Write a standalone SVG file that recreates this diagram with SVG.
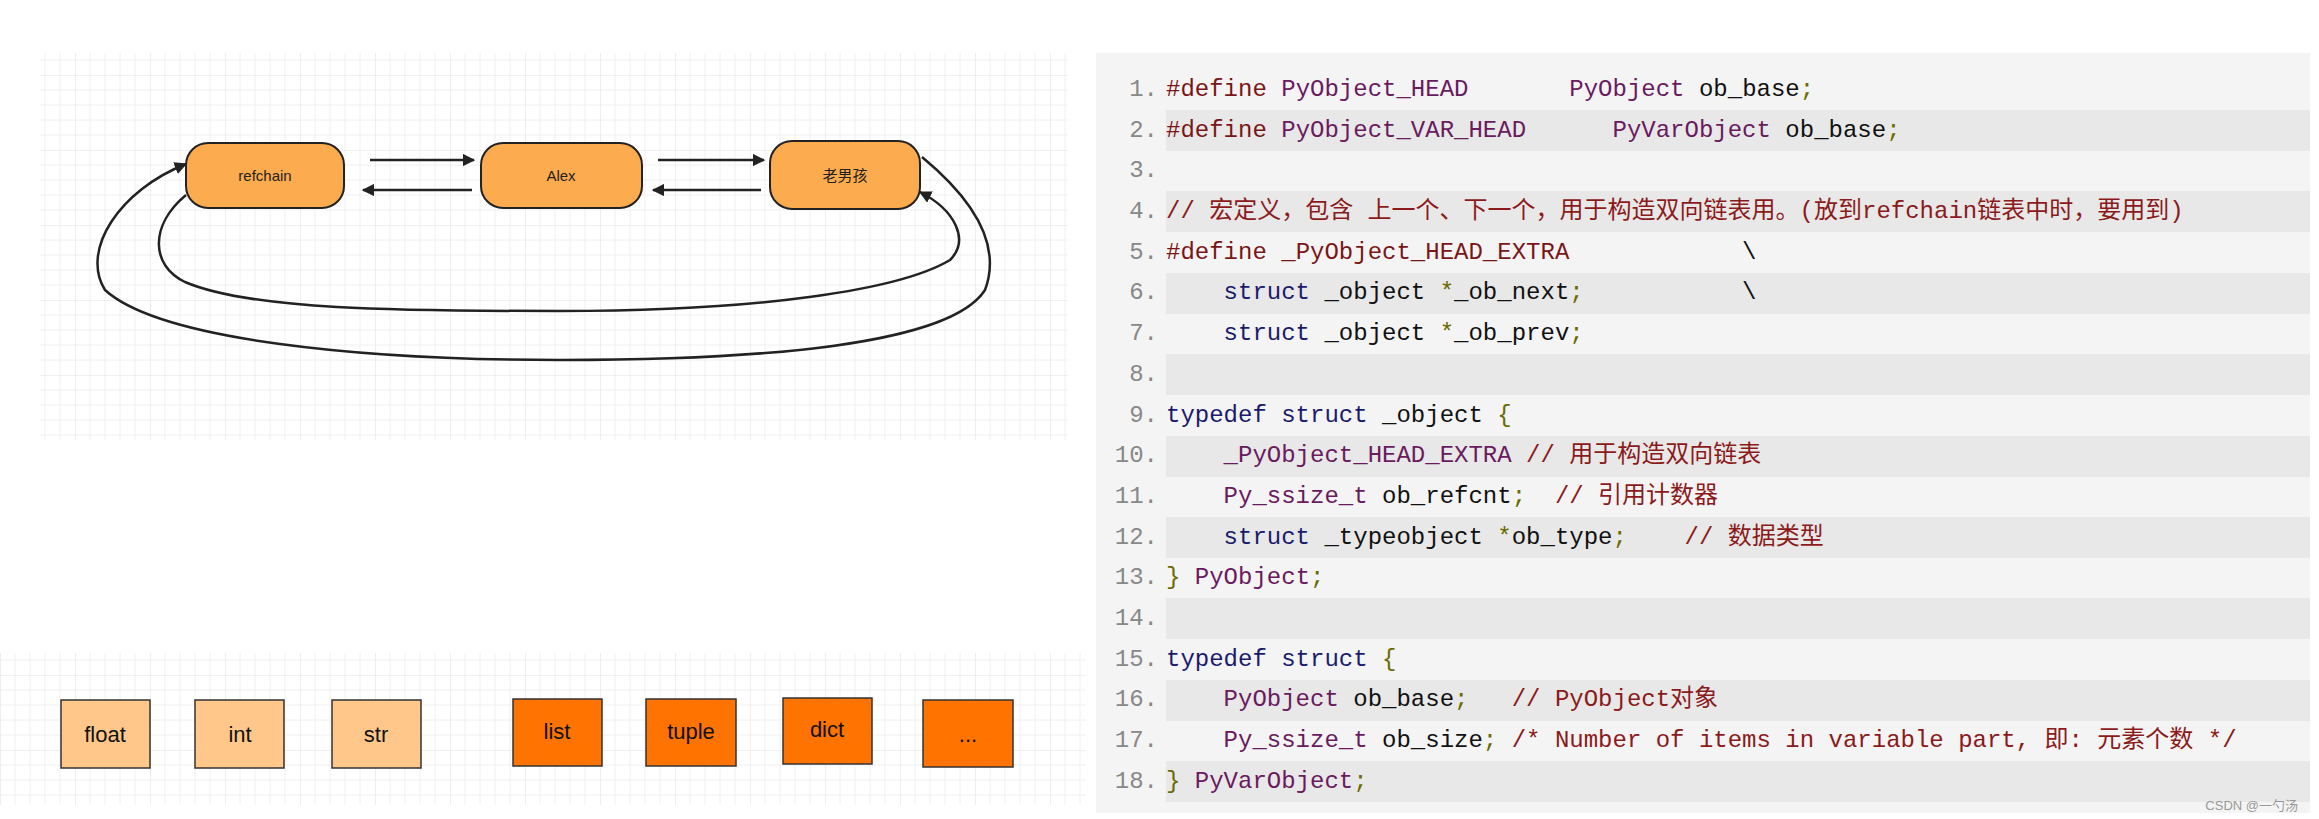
<svg xmlns="http://www.w3.org/2000/svg" width="2319" height="819" viewBox="0 0 2319 819">
<style>
.node{fill:#fdab4f;stroke:#222;stroke-width:2}
.lt{fill:#ffc88a;stroke:#333;stroke-width:1.5}
.dk{fill:#ff7300;stroke:#333;stroke-width:1.5}
.nl{font-family:"Liberation Sans","Noto Sans CJK SC",sans-serif;font-size:15px;fill:#222;text-anchor:middle}
.bl{font-family:"Liberation Sans",sans-serif;font-size:22px;fill:#111;text-anchor:middle}
.code{font-family:"Liberation Mono","Noto Sans CJK SC",monospace;font-size:24px;white-space:pre;fill:#111}
.ln{fill:#888}.kw{fill:#7a1616}.ty{fill:#6a1a5e}.st{fill:#1b1b6e}.pu{fill:#6b6b00}.cm{fill:#8b1a1a}
.conn path,.conn line{fill:none;stroke:#222;stroke-width:2.5}
</style>
<defs>
<pattern id="g" width="75" height="75" patternUnits="userSpaceOnUse">
<path d="M15 0V75M30 0V75M45 0V75M60 0V75M0 15H75M0 30H75M0 45H75M0 60H75" stroke="#f0f0f0" stroke-width="1"/>
<path d="M0 0V75M0 0H75" stroke="#e2e2e2" stroke-width="1.2"/>
</pattern>
<marker id="a" viewBox="0 0 10 10" refX="9" refY="5" markerWidth="5" markerHeight="5" orient="auto"><path d="M0 0L10 5L0 10z" fill="#222"/></marker>
</defs>
<rect width="2319" height="819" fill="#fff"/>
<rect x="40" y="53" width="1028" height="387" fill="url(#g)"/>
<rect x="0" y="653" width="1086" height="152" fill="url(#g)"/>
<g class="conn">
<line x1="370" y1="160" x2="474" y2="160" marker-end="url(#a)"/>
<line x1="472" y1="190" x2="363" y2="190" marker-end="url(#a)"/>
<line x1="658" y1="160" x2="764" y2="160" marker-end="url(#a)"/>
<line x1="761" y1="190" x2="653" y2="190" marker-end="url(#a)"/>
<path d="M922 157C980 205 1000 250 985 290C950 345 760 360 560 360C360 360 160 340 105 290C80 250 120 190 186 164" marker-end="url(#a)"/>
<path d="M186 195C150 225 150 265 185 282C250 310 400 311 560 311C760 311 900 290 950 260C970 240 955 210 920 192" marker-end="url(#a)"/>
</g>
<g id="refchain"><rect class="node" x="186" y="143" width="158" height="65" rx="22"/><text class="nl" x="265" y="181">refchain</text></g>
<g id="alex"><rect class="node" x="481" y="143" width="161" height="65" rx="22"/><text class="nl" x="561" y="181">Alex</text></g>
<g id="laonanhai"><rect class="node" x="770" y="141" width="150" height="68" rx="22"/><text class="nl" x="845" y="181">老男孩</text></g>
<g id="float"><rect class="lt" x="61" y="700" width="89" height="68"/><text class="bl" x="105" y="742">float</text></g>
<g id="int"><rect class="lt" x="195" y="700" width="89" height="68"/><text class="bl" x="240" y="742">int</text></g>
<g id="str"><rect class="lt" x="332" y="700" width="89" height="68"/><text class="bl" x="376" y="742">str</text></g>
<g id="list"><rect class="dk" x="513" y="699" width="89" height="67"/><text class="bl" x="557" y="739">list</text></g>
<g id="tuple"><rect class="dk" x="646" y="699" width="90" height="67"/><text class="bl" x="691" y="739">tuple</text></g>
<g id="dict"><rect class="dk" x="783" y="698" width="89" height="66"/><text class="bl" x="827" y="737">dict</text></g>
<g id="more"><rect class="dk" x="923" y="700" width="90" height="67"/><text class="bl" x="968" y="742">...</text></g>
<g id="code">
<rect x="1096" y="53" width="1214" height="760" fill="#f4f4f4"/>
<g fill="#e8e8e8">
<rect x="1166" y="110" width="1144" height="41"/><rect x="1166" y="191" width="1144" height="41"/><rect x="1166" y="273" width="1144" height="41"/><rect x="1166" y="354" width="1144" height="41"/><rect x="1166" y="436" width="1144" height="41"/><rect x="1166" y="517" width="1144" height="41"/><rect x="1166" y="598" width="1144" height="41"/><rect x="1166" y="680" width="1144" height="41"/><rect x="1166" y="761" width="1144" height="41"/>
</g>
<g class="code ln" text-anchor="end">
<text x="1158" y="96">1.</text><text x="1158" y="137">2.</text><text x="1158" y="177">3.</text><text x="1158" y="218">4.</text><text x="1158" y="259">5.</text><text x="1158" y="299">6.</text><text x="1158" y="340">7.</text><text x="1158" y="381">8.</text><text x="1158" y="422">9.</text><text x="1158" y="462">10.</text><text x="1158" y="503">11.</text><text x="1158" y="544">12.</text><text x="1158" y="584">13.</text><text x="1158" y="625">14.</text><text x="1158" y="666">15.</text><text x="1158" y="706">16.</text><text x="1158" y="747">17.</text><text x="1158" y="788">18.</text>
</g>
<text class="code" x="1166" y="96"><tspan class="kw">#define</tspan> <tspan class="ty">PyObject_HEAD</tspan>       <tspan class="ty">PyObject</tspan> ob_base<tspan class="pu">;</tspan></text>
<text class="code" x="1166" y="137"><tspan class="kw">#define</tspan> <tspan class="ty">PyObject_VAR_HEAD</tspan>      <tspan class="ty">PyVarObject</tspan> ob_base<tspan class="pu">;</tspan></text>
<text class="code cm" x="1166" y="218">// 宏定义，包含 上一个、下一个，用于构造双向链表用。(放到refchain链表中时，要用到)</text>
<text class="code" x="1166" y="259"><tspan class="kw">#define</tspan> <tspan class="kw">_PyObject_HEAD_EXTRA</tspan>            \</text>
<text class="code" x="1166" y="299">    <tspan class="st">struct</tspan> _object <tspan class="pu">*</tspan>_ob_next<tspan class="pu">;</tspan>           \</text>
<text class="code" x="1166" y="340">    <tspan class="st">struct</tspan> _object <tspan class="pu">*</tspan>_ob_prev<tspan class="pu">;</tspan></text>
<text class="code" x="1166" y="422"><tspan class="st">typedef struct</tspan> _object <tspan class="pu">{</tspan></text>
<text class="code" x="1166" y="462">    <tspan class="ty">_PyObject_HEAD_EXTRA</tspan> <tspan class="cm">// 用于构造双向链表</tspan></text>
<text class="code" x="1166" y="503">    <tspan class="ty">Py_ssize_t</tspan> ob_refcnt<tspan class="pu">;</tspan>  <tspan class="cm">// 引用计数器</tspan></text>
<text class="code" x="1166" y="544">    <tspan class="st">struct</tspan> _typeobject <tspan class="pu">*</tspan>ob_type<tspan class="pu">;</tspan>    <tspan class="cm">// 数据类型</tspan></text>
<text class="code" x="1166" y="584"><tspan class="pu">}</tspan> <tspan class="ty">PyObject</tspan><tspan class="pu">;</tspan></text>
<text class="code" x="1166" y="666"><tspan class="st">typedef struct</tspan> <tspan class="pu">{</tspan></text>
<text class="code" x="1166" y="706">    <tspan class="ty">PyObject</tspan> ob_base<tspan class="pu">;</tspan>   <tspan class="cm">// PyObject对象</tspan></text>
<text class="code" x="1166" y="747">    <tspan class="ty">Py_ssize_t</tspan> ob_size<tspan class="pu">;</tspan> <tspan class="cm">/* Number of items in variable part, 即: 元素个数 */</tspan></text>
<text class="code" x="1166" y="788"><tspan class="pu">}</tspan> <tspan class="ty">PyVarObject</tspan><tspan class="pu">;</tspan></text>
<text x="2298" y="810" text-anchor="end" font-family="Liberation Sans,Noto Sans CJK SC,sans-serif" font-size="13" fill="#999">CSDN @一勺汤</text>
</g>
</svg>
